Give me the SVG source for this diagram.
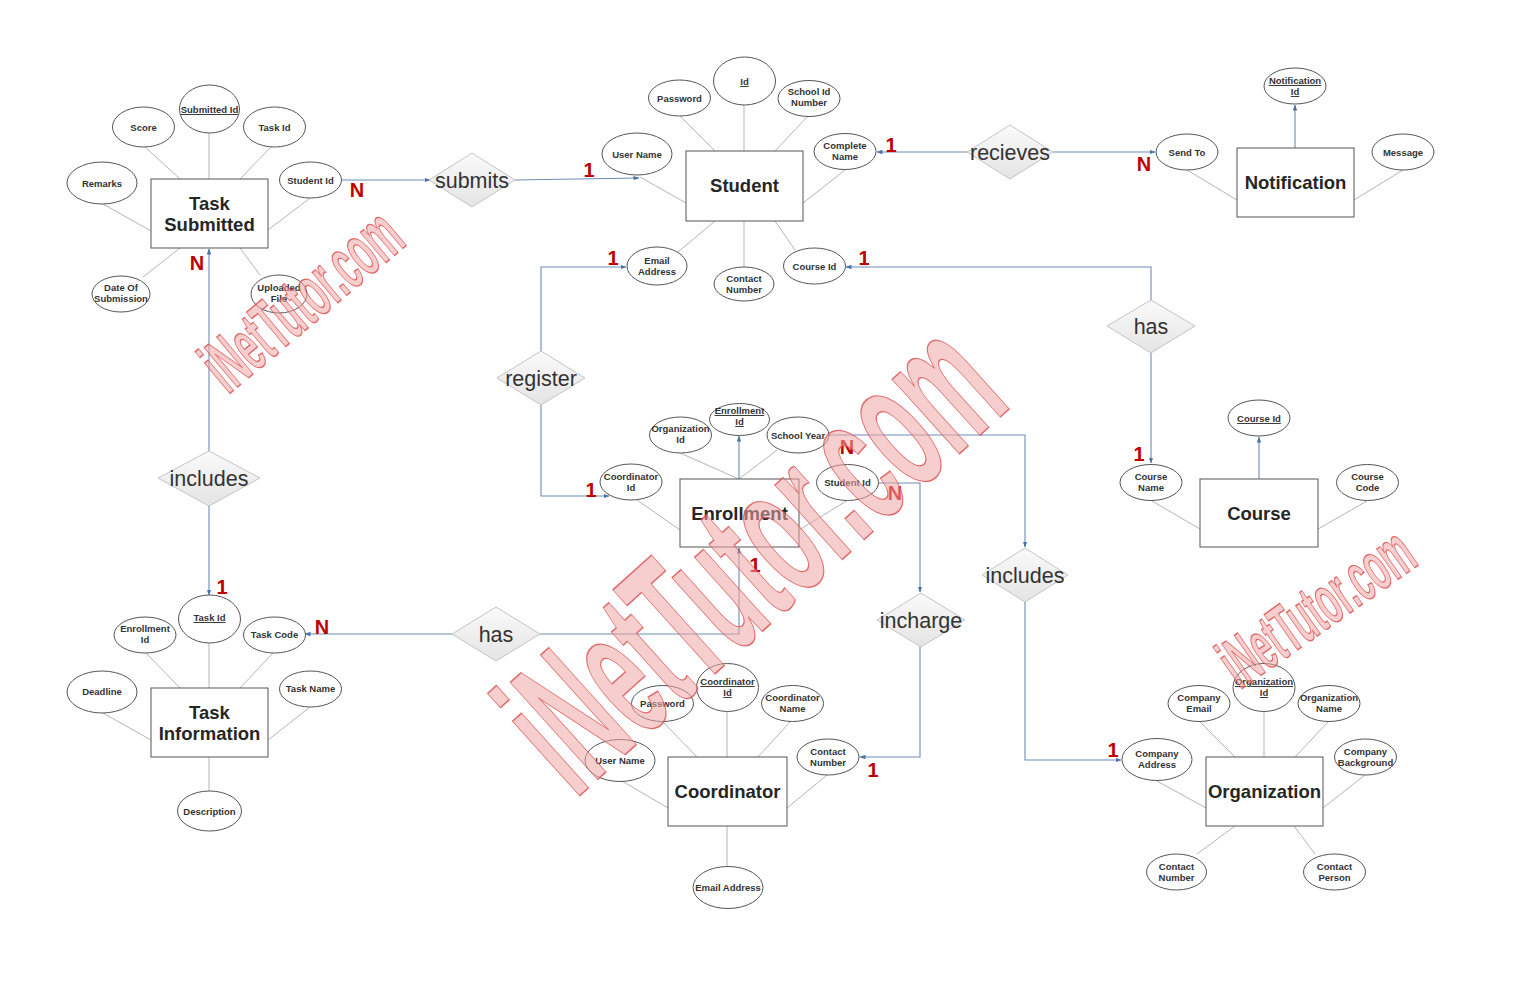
<svg xmlns="http://www.w3.org/2000/svg" width="1536" height="988" viewBox="0 0 1536 988">
<defs>
<linearGradient id="dg" x1="0" y1="0" x2="0" y2="1"><stop offset="0" stop-color="#fafafa"/><stop offset="1" stop-color="#e4e4e4"/></linearGradient>
<marker id="ar" viewBox="0 0 6 6" refX="5.5" refY="3" markerWidth="6" markerHeight="6" orient="auto" markerUnits="userSpaceOnUse"><path d="M0,0.8 L6,3 L0,5.2 Z" fill="#4a72a8"/></marker>
<style>
.ent rect{fill:#fff;stroke:#555;stroke-width:1}
.et{font-family:"Liberation Sans",Arial,sans-serif;font-weight:bold;font-size:18.5px;fill:#262626;text-anchor:middle}
ellipse{fill:#fff;stroke:#555;stroke-width:1}
.at{font-family:"Liberation Sans",Arial,sans-serif;font-weight:bold;font-size:9.5px;fill:#333;text-anchor:middle}
.key{text-decoration:underline}
.al line{stroke:#b5b5b5;stroke-width:1}
.rel polygon{fill:url(#dg);stroke:#c4c4c4;stroke-width:1}
.rt{font-family:"Liberation Sans",Arial,sans-serif;font-size:21.5px;fill:#333;text-anchor:middle}
.conn path{fill:none;stroke:#6d8db5;stroke-width:1.1;marker-end:url(#ar)}
.card{font-family:"Liberation Sans",Arial,sans-serif;font-weight:bold;font-size:20px;fill:#c00000;text-anchor:middle}
.wm{font-family:"Liberation Sans Narrow","Liberation Sans",sans-serif;font-weight:bold;fill:#efa5a5;fill-opacity:0.55;stroke:#d94c4c;stroke-width:1.5;stroke-opacity:0.8}
</style>
</defs>
<rect width="1536" height="988" fill="#fff"/>

<!-- attribute lines -->
<g class="al">
<line x1="143" y1="145" x2="180" y2="179"/><line x1="209" y1="133" x2="209" y2="179"/><line x1="273" y1="145" x2="240" y2="179"/>
<line x1="103" y1="204" x2="151" y2="231"/><line x1="310" y1="198" x2="268" y2="230"/>
<line x1="143" y1="277" x2="180" y2="248"/><line x1="260" y1="275" x2="240" y2="248"/>
<line x1="680" y1="116" x2="715" y2="151"/><line x1="744" y1="105" x2="744" y2="151"/><line x1="808" y1="116" x2="775" y2="151"/>
<line x1="640" y1="177" x2="686" y2="203"/><line x1="845" y1="170" x2="803" y2="203"/>
<line x1="678" y1="252" x2="715" y2="221"/><line x1="744" y1="221" x2="744" y2="267"/><line x1="795" y1="250" x2="775" y2="221"/>
<line x1="1187" y1="170" x2="1237" y2="200"/><line x1="1403" y1="170" x2="1354" y2="200"/>
<line x1="680" y1="453" x2="739" y2="479"/><line x1="777" y1="450" x2="739" y2="479"/>
<line x1="637" y1="500" x2="680" y2="530"/><line x1="848" y1="500" x2="799" y2="530"/>
<line x1="1152" y1="501" x2="1200" y2="529"/><line x1="1367" y1="501" x2="1318" y2="529"/>
<line x1="146" y1="653" x2="180" y2="688"/><line x1="209" y1="643" x2="209" y2="688"/><line x1="273" y1="653" x2="240" y2="688"/>
<line x1="103" y1="713" x2="151" y2="740"/><line x1="310" y1="707" x2="268" y2="740"/><line x1="209" y1="757" x2="209" y2="791"/>
<line x1="663" y1="722" x2="697" y2="757"/><line x1="727" y1="711" x2="727" y2="757"/><line x1="790" y1="722" x2="758" y2="757"/>
<line x1="622" y1="781" x2="668" y2="808"/><line x1="827" y1="775" x2="787" y2="808"/><line x1="727" y1="826" x2="727" y2="866"/>
<line x1="1200" y1="722" x2="1235" y2="757"/><line x1="1264" y1="711" x2="1264" y2="757"/><line x1="1328" y1="722" x2="1295" y2="757"/>
<line x1="1157" y1="781" x2="1206" y2="808"/><line x1="1365" y1="775" x2="1323" y2="808"/>
<line x1="1197" y1="854" x2="1235" y2="826"/><line x1="1315" y1="854" x2="1294" y2="826"/>
</g>

<!-- connectors -->
<g class="conn">
<path d="M342,180 H430"/>
<path d="M515,180 L639,178"/>
<path d="M967,152 H877"/>
<path d="M1053,152 H1155"/>
<path d="M541,351 V267 H626"/>
<path d="M541,405 V496 H609"/>
<path d="M1151,300 V267 H846"/>
<path d="M1151,353 V463"/>
<path d="M209,451 V249"/>
<path d="M209,506 V595"/>
<path d="M540,634 H739 V548"/>
<path d="M452,634 H305"/>
<path d="M829,435 H1025 V547"/>
<path d="M1025,602 V760 H1121"/>
<path d="M878,483 H920 V592"/>
<path d="M920,647 V757 H860"/>
<path d="M1295,148 V105"/>
<path d="M739,479 V436"/>
<path d="M1259,479 V437"/>
</g>

<!-- relationships -->
<g class="rel" id="r-submits"><polygon points="472,153 515,180 472,207 429,180"/><text class="rt" x="472" y="188">submits</text></g>
<g class="rel" id="r-recieves"><polygon points="1010,125 1053,152 1010,179 967,152"/><text class="rt" x="1010" y="160">recieves</text></g>
<g class="rel" id="r-register"><polygon points="541,351 585,378 541,405 497,378"/><text class="rt" x="541" y="386">register</text></g>
<g class="rel" id="r-has1"><polygon points="1151,300 1195,326 1151,353 1107,326"/><text class="rt" x="1151" y="334">has</text></g>
<g class="rel" id="r-includes1"><polygon points="209,451 260,478 209,506 158,478"/><text class="rt" x="209" y="486">includes</text></g>
<g class="rel" id="r-has2"><polygon points="496,607 540,634 496,661 452,634"/><text class="rt" x="496" y="642">has</text></g>
<g class="rel" id="r-incharge"><polygon points="921,593 965,620 921,647 877,620"/><text class="rt" x="921" y="628">incharge</text></g>
<g class="rel" id="r-includes2"><polygon points="1025,548 1068,575 1025,602 982,575"/><text class="rt" x="1025" y="583">includes</text></g>

<!-- Task Submitted -->
<g id="task-submitted">
<g class="ent"><rect x="151" y="179" width="117" height="69"/></g>
<text class="et" x="209.5" y="210">Task</text><text class="et" x="209.5" y="231">Submitted</text>
<ellipse cx="209.5" cy="109" rx="30" ry="24"/><text class="at key" x="209.5" y="113">Submitted Id</text>
<ellipse cx="143.5" cy="127" rx="31" ry="20"/><text class="at" x="143.5" y="131">Score</text>
<ellipse cx="274.5" cy="127" rx="31" ry="20"/><text class="at" x="274.5" y="131">Task Id</text>
<ellipse cx="102" cy="183" rx="35" ry="21"/><text class="at" x="102" y="187">Remarks</text>
<ellipse cx="310.5" cy="180" rx="31" ry="18"/><text class="at" x="310.5" y="184">Student Id</text>
<ellipse cx="121" cy="294" rx="29" ry="18"/><text class="at" x="121" y="291">Date Of</text><text class="at" x="121" y="302">Submission</text>
<ellipse cx="279" cy="294" rx="28" ry="19"/><text class="at" x="279" y="291">Uploaded</text><text class="at" x="279" y="302">File</text>
</g>

<!-- Student -->
<g id="student">
<g class="ent"><rect x="686" y="151" width="117" height="70"/></g>
<text class="et" x="744.5" y="192">Student</text>
<ellipse cx="744.5" cy="81" rx="31" ry="24"/><text class="at key" x="744.5" y="85">Id</text>
<ellipse cx="679.5" cy="98" rx="31" ry="18"/><text class="at" x="679.5" y="102">Password</text>
<ellipse cx="809" cy="98.5" rx="31" ry="18"/><text class="at" x="809" y="95">School Id</text><text class="at" x="809" y="106">Number</text>
<ellipse cx="637" cy="154" rx="35" ry="21"/><text class="at" x="637" y="158">User Name</text>
<ellipse cx="845" cy="151.5" rx="31" ry="18"/><text class="at" x="845" y="149">Complete</text><text class="at" x="845" y="160">Name</text>
<ellipse cx="657" cy="266" rx="30" ry="19"/><text class="at" x="657" y="264">Email</text><text class="at" x="657" y="275">Address</text>
<ellipse cx="744" cy="284" rx="30" ry="17"/><text class="at" x="744" y="282">Contact</text><text class="at" x="744" y="293">Number</text>
<ellipse cx="814.5" cy="266" rx="31" ry="18"/><text class="at" x="814.5" y="270">Course Id</text>
</g>

<!-- Notification -->
<g id="notification">
<g class="ent"><rect x="1237" y="148" width="117" height="69"/></g>
<text class="et" x="1295.5" y="189">Notification</text>
<ellipse cx="1295" cy="86" rx="31" ry="18"/><text class="at key" x="1295" y="84">Notification</text><text class="at key" x="1295" y="95">Id</text>
<ellipse cx="1187" cy="152" rx="31" ry="18"/><text class="at" x="1187" y="156">Send To</text>
<ellipse cx="1403" cy="152" rx="31" ry="18"/><text class="at" x="1403" y="156">Message</text>
</g>

<!-- Enrollment -->
<g id="enrollment">
<g class="ent"><rect x="680" y="479" width="119" height="68"/></g>
<text class="et" x="739.5" y="520">Enrollment</text>
<ellipse cx="739.5" cy="419.5" rx="30" ry="16"/><text class="at key" x="739.5" y="414">Enrollment</text><text class="at key" x="739.5" y="425">Id</text>
<ellipse cx="680.5" cy="435" rx="31" ry="18"/><text class="at" x="680.5" y="432">Organization</text><text class="at" x="680.5" y="443">Id</text>
<ellipse cx="798" cy="435" rx="31" ry="18"/><text class="at" x="798" y="439">School Year</text>
<ellipse cx="631" cy="482" rx="31" ry="18"/><text class="at" x="631" y="480">Coordinator</text><text class="at" x="631" y="491">Id</text>
<ellipse cx="847.5" cy="482.5" rx="31" ry="18"/><text class="at" x="847.5" y="486">Student Id</text>
</g>

<!-- Course -->
<g id="course">
<g class="ent"><rect x="1200" y="479" width="118" height="68"/></g>
<text class="et" x="1259" y="520">Course</text>
<ellipse cx="1259" cy="418" rx="31" ry="18"/><text class="at key" x="1259" y="422">Course Id</text>
<ellipse cx="1151" cy="482.5" rx="31" ry="18"/><text class="at" x="1151" y="480">Course</text><text class="at" x="1151" y="491">Name</text>
<ellipse cx="1367.5" cy="482.5" rx="31" ry="18"/><text class="at" x="1367.5" y="480">Course</text><text class="at" x="1367.5" y="491">Code</text>
</g>

<!-- Task Information -->
<g id="task-information">
<g class="ent"><rect x="151" y="688" width="117" height="69"/></g>
<text class="et" x="209.5" y="719">Task</text><text class="et" x="209.5" y="740">Information</text>
<ellipse cx="209.5" cy="619" rx="31" ry="24"/><text class="at key" x="209.5" y="621">Task Id</text>
<ellipse cx="145" cy="635" rx="31" ry="18"/><text class="at" x="145" y="632">Enrollment</text><text class="at" x="145" y="643">Id</text>
<ellipse cx="274.5" cy="635" rx="31" ry="18"/><text class="at" x="274.5" y="638">Task Code</text>
<ellipse cx="102" cy="692" rx="35" ry="21"/><text class="at" x="102" y="695">Deadline</text>
<ellipse cx="310.5" cy="689" rx="31" ry="18"/><text class="at" x="310.5" y="692">Task Name</text>
<ellipse cx="209.5" cy="811" rx="32" ry="20"/><text class="at" x="209.5" y="815">Description</text>
</g>

<!-- Coordinator -->
<g id="coordinator">
<g class="ent"><rect x="668" y="757" width="119" height="69"/></g>
<text class="et" x="727.5" y="798">Coordinator</text>
<ellipse cx="727.5" cy="687.5" rx="31" ry="24"/><text class="at key" x="727.5" y="685">Coordinator</text><text class="at key" x="727.5" y="696">Id</text>
<ellipse cx="662.5" cy="703.5" rx="31" ry="18"/><text class="at" x="662.5" y="707">Password</text>
<ellipse cx="792.5" cy="703.5" rx="31" ry="18"/><text class="at" x="792.5" y="701">Coordinator</text><text class="at" x="792.5" y="712">Name</text>
<ellipse cx="620" cy="760.5" rx="35" ry="21"/><text class="at" x="620" y="764">User Name</text>
<ellipse cx="828" cy="757" rx="31" ry="18"/><text class="at" x="828" y="755">Contact</text><text class="at" x="828" y="766">Number</text>
<ellipse cx="728" cy="887.5" rx="35" ry="21"/><text class="at" x="728" y="891">Email Address</text>
</g>

<!-- Organization -->
<g id="organization">
<g class="ent"><rect x="1206" y="757" width="117" height="69"/></g>
<text class="et" x="1264.5" y="798">Organization</text>
<ellipse cx="1264" cy="687.5" rx="31" ry="24"/><text class="at key" x="1264" y="685">Organization</text><text class="at key" x="1264" y="696">Id</text>
<ellipse cx="1199" cy="703.5" rx="31" ry="18"/><text class="at" x="1199" y="701">Company</text><text class="at" x="1199" y="712">Email</text>
<ellipse cx="1329" cy="703.5" rx="31" ry="18"/><text class="at" x="1329" y="701">Organization</text><text class="at" x="1329" y="712">Name</text>
<ellipse cx="1157" cy="759.5" rx="35" ry="21"/><text class="at" x="1157" y="757">Company</text><text class="at" x="1157" y="768">Address</text>
<ellipse cx="1365.5" cy="757" rx="31" ry="18"/><text class="at" x="1365.5" y="755">Company</text><text class="at" x="1365.5" y="766">Background</text>
<ellipse cx="1176.5" cy="872" rx="30" ry="18"/><text class="at" x="1176.5" y="870">Contact</text><text class="at" x="1176.5" y="881">Number</text>
<ellipse cx="1334.5" cy="872" rx="31" ry="18"/><text class="at" x="1334.5" y="870">Contact</text><text class="at" x="1334.5" y="881">Person</text>
</g>

<!-- cardinalities -->
<g id="cardinalities">
<text class="card" x="357" y="197">N</text>
<text class="card" x="589" y="177">1</text>
<text class="card" x="197" y="270">N</text>
<text class="card" x="891" y="152">1</text>
<text class="card" x="1144" y="171">N</text>
<text class="card" x="613" y="265">1</text>
<text class="card" x="864" y="265">1</text>
<text class="card" x="591" y="497">1</text>
<text class="card" x="847" y="454">N</text>
<text class="card" x="895" y="500">N</text>
<text class="card" x="755" y="572">1</text>
<text class="card" x="1139" y="461">1</text>
<text class="card" x="222" y="594">1</text>
<text class="card" x="322" y="634">N</text>
<text class="card" x="873" y="777">1</text>
<text class="card" x="1113" y="757">1</text>
</g>

<!-- watermarks -->
<g id="watermarks">
<text class="wm" transform="translate(575,800) rotate(-42)" font-size="190" textLength="590" lengthAdjust="spacingAndGlyphs">iNetTutor.com</text>
<text class="wm" transform="translate(228,395) rotate(-40)" font-size="75" textLength="235" lengthAdjust="spacingAndGlyphs">iNetTutor.com</text>
<text class="wm" transform="translate(1240,690) rotate(-35)" font-size="70" textLength="220" lengthAdjust="spacingAndGlyphs">iNetTutor.com</text>
</g>
</svg>
